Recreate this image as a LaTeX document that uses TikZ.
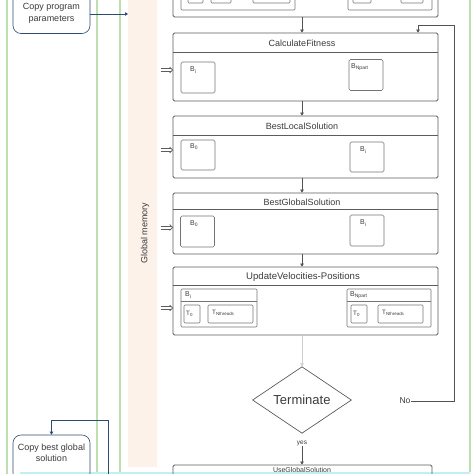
\documentclass[tikz,border=0pt]{standalone}
\usepackage{fontspec}
\setmainfont{Liberation Sans}
\usetikzlibrary{arrows.meta,shapes.geometric,calc}
\definecolor{boxgray}{HTML}{5C5C5C}
\definecolor{txtgray}{HTML}{3A3A3A}
\definecolor{peach}{HTML}{FDF2EA}
\definecolor{lanegreen}{HTML}{BCE0B0}
\definecolor{navy}{HTML}{2E4C72}
\definecolor{cyanline}{HTML}{C4EEF5}
\begin{document}
\begin{tikzpicture}[x=1pt,y=-1pt,
  block/.style={draw=boxgray, line width=0.75pt, rounded corners=1.5pt, minimum width=265pt, inner sep=0pt},
  inbox/.style={draw=boxgray!85, line width=0.55pt, rounded corners=1.5pt, minimum width=34pt, minimum height=31pt, inner sep=0pt},
  subbox/.style={draw=boxgray!85, line width=0.55pt, rounded corners=1pt, inner sep=0pt},
  ttl/.style={text=txtgray, font=\fontsize{9}{10}\selectfont, inner sep=0pt},
  blab/.style={text=txtgray, font=\fontsize{7}{8}\selectfont, inner sep=0pt, anchor=west},
  hdr/.style={draw=boxgray, line width=0.75pt},
  arr/.style={draw=boxgray!90!black, line width=0.7pt, -{Triangle[length=3pt,width=3.5pt]}},
  barr/.style={draw=navy, line width=0.7pt, -{Triangle[length=3pt,width=3.5pt]}},
  dbl/.style={draw=boxgray, line width=0.6pt},
  bluebox/.style={draw=navy, line width=0.6pt, rounded corners=8pt, minimum width=77pt, inner sep=0pt},
  btxt/.style={text=txtgray, font=\fontsize{9}{11.5}\selectfont, align=center, inner sep=0pt},
  lane/.style={draw=lanegreen, line width=1.1pt}
]
\useasboundingbox (0,0) rectangle (474,474);
\clip (0,0) rectangle (474,474);
% lanes
\fill[peach] (128,-5) rectangle (157,467);
\draw[lane] (7,-5) -- (7,480);
\draw[lane] (97,-5) -- (97,480);
\draw[lane] (120,-5) -- (120,480);
\draw[lane] (470,-5) -- (470,472);
\draw[cyanline, line width=1.2pt] (20,473) -- (470,473);
\node[rotate=90, text=txtgray, font=\fontsize{9}{10}\selectfont, inner sep=0pt] (gm) at (145,233) {Global memory};

% left blue boxes
\node[bluebox, minimum height=45pt] (cpp) at (51.5,11) {};
\node[btxt] (cppt) at (51.5,13.5) {Copy program\\parameters};
\coordinate (gmin) at (128,14);
\draw[barr] (cpp.east |- gmin) -- (gmin);

\node[bluebox, minimum height=46pt] (cbg) at (51.5,458) {};
\node[btxt] (cbgt) at (51.5,453) {Copy best global\\solution};
\coordinate (vb) at (108,480);
\coordinate (vt) at (108,420);
\draw[barr] (vb) -- (vt) -| (cbg.north);

% top cut box
\node[block, minimum height=40pt] (topb) at (305.5,-3) {};
\node[subbox, minimum width=114pt, minimum height=30pt] (tl) at (238,-5) {};
\node[subbox, minimum width=15pt, minimum height=20pt] (tl1) at (195.5,-7) {};
\node[subbox, minimum width=20pt, minimum height=20pt] (tl2) at (221,-7) {};
\node[subbox, minimum width=37pt, minimum height=20pt] (tl3) at (271.5,-7) {};
\node[subbox, minimum width=84pt, minimum height=30pt] (tr) at (390,-5) {};
\node[subbox, minimum width=18pt, minimum height=20pt] (tr1) at (362,-7) {};
\node[subbox, minimum width=22pt, minimum height=20pt] (tr2) at (412,-7) {};

% CalculateFitness
\node[block, minimum height=68pt] (cf) at (305.5,67) {};
\node[ttl] (cft) at (302,43) {CalculateFitness};
\coordinate (h1) at (0,52);
\draw[hdr] (cf.west |- h1) -- (cf.east |- h1);
\node[inbox] (cfl) at (198,77.5) {};
\node[blab] (cfll) at (190,70) {B\textsubscript{i}};
\node[inbox] (cfr) at (366,75) {};
\node[blab] (cfrl) at (351,67) {B\textsubscript{Npart}};

% BestLocalSolution
\node[block, minimum height=62pt] (bl) at (305.5,147) {};
\node[ttl] (blt) at (302,126) {BestLocalSolution};
\coordinate (h2) at (0,135);
\draw[hdr] (bl.west |- h2) -- (bl.east |- h2);
\node[inbox, minimum height=30pt] (bll) at (198,155) {};
\node[blab] (blll) at (190,147) {B\textsubscript{0}};
\node[inbox, minimum height=30pt] (blr) at (367,157) {};
\node[blab] (blrl) at (360,150) {B\textsubscript{i}};

% BestGlobalSolution
\node[block, minimum height=61pt] (bg) at (305.5,223.5) {};
\node[ttl] (bgt) at (302,202) {BestGlobalSolution};
\coordinate (h3) at (0,209);
\draw[hdr] (bg.west |- h3) -- (bg.east |- h3);
\node[inbox] (bgll) at (197.5,231.5) {};
\node[blab] (bglll) at (190,224) {B\textsubscript{0}};
\node[inbox] (bgr) at (367,230.5) {};
\node[blab] (bgrl) at (360,223) {B\textsubscript{i}};

% UpdateVelocities-Positions
\node[block, minimum height=68pt] (up) at (305.5,301) {};
\node[ttl, font=\fontsize{9.6}{11}\selectfont] (upt) at (303,277) {UpdateVelocities-Positions};
\coordinate (h4) at (0,285);
\draw[hdr] (up.west |- h4) -- (up.east |- h4);
\node[subbox, minimum width=76pt, minimum height=38pt] (ul) at (219,308) {};
\coordinate (h5) at (0,301);
\draw[boxgray!85, line width=0.55pt] (ul.west |- h5) -- (ul.east |- h5);
\node[blab] (ull) at (185,295) {B\textsubscript{i}};
\node[subbox, minimum width=16pt, minimum height=18pt] (ut0) at (192,314) {};
\node[blab, font=\fontsize{6.3}{7}\selectfont] (ut0l) at (186,314) {T\textsubscript{0}};
\node[subbox, minimum width=45pt, minimum height=18pt] (utn) at (230.5,314) {};
\node[blab, font=\fontsize{6.3}{7}\selectfont] (utnl) at (212,313) {T\textsubscript{Nthreads}};
\node[subbox, minimum width=84pt, minimum height=38pt] (ur) at (389,308) {};
\draw[boxgray!85, line width=0.55pt] (ur.west |- h5) -- (ur.east |- h5);
\node[blab] (url) at (350,295) {B\textsubscript{Npart}};
\node[subbox, minimum width=16pt, minimum height=18pt] (vt0) at (359,314) {};
\node[blab, font=\fontsize{6.3}{7}\selectfont] (vt0l) at (353,314) {T\textsubscript{0}};
\node[subbox, minimum width=45pt, minimum height=18pt] (vtn) at (400.5,314) {};
\node[blab, font=\fontsize{6.3}{7}\selectfont] (vtnl) at (382,313) {T\textsubscript{Nthreads}};

% Terminate
\node[diamond, draw=boxgray, line width=0.7pt, minimum width=99pt, minimum height=66pt, inner sep=0pt, text=txtgray, font=\fontsize{13}{15}\selectfont] (term) at (302,400) {Terminate};
\node[text=txtgray, font=\fontsize{6.5}{7}\selectfont, inner sep=0pt] (yes) at (302,443) {yes};
\node[text=txtgray, font=\fontsize{8.5}{9}\selectfont, inner sep=0pt] (no) at (405,401) {No};

% bottom box
\node[block, minimum width=259pt, minimum height=40pt] (ug) at (302.5,485) {};
\node[ttl, font=\fontsize{7}{8}\selectfont] (ugt) at (302,469.5) {UseGlobalSolution};

% connectors
\coordinate (cx) at (302,0);
\draw[arr] (cx |- topb.south) -- (cx |- cf.north);
\draw[arr] (cx |- cf.south) -- (cx |- bl.north);
\draw[arr] (cx |- bl.south) -- (cx |- bg.north);
\draw[arr] (cx |- bg.south) -- (cx |- up.north);
\draw[arr, draw=boxgray!30] (cx |- up.south) -- (term.north);
\draw[arr] (yes.south) -- (cx |- ug.north);
\coordinate (lr) at (454,25);
\coordinate (ll) at (418,25);
\draw[arr] (no.east) -| (lr) -- (ll) -- (ll |- cf.north);

% memory access arrows (double-line arrows)
\foreach \n/\dy in {cf/3, bl/3, bg/4, up/7} {
  \coordinate (\n-m) at ([yshift=-\dy pt]\n.west);
  \draw[dbl] ([xshift=-12pt,yshift=1.3pt]\n-m) -- ([xshift=-2pt,yshift=1.3pt]\n-m);
  \draw[dbl] ([xshift=-12pt,yshift=-1.3pt]\n-m) -- ([xshift=-2pt,yshift=-1.3pt]\n-m);
  \draw[dbl] ([xshift=-3pt,yshift=3pt]\n-m) -- (\n-m) -- ([xshift=-3pt,yshift=-3pt]\n-m);
}
\end{tikzpicture}
\end{document}
